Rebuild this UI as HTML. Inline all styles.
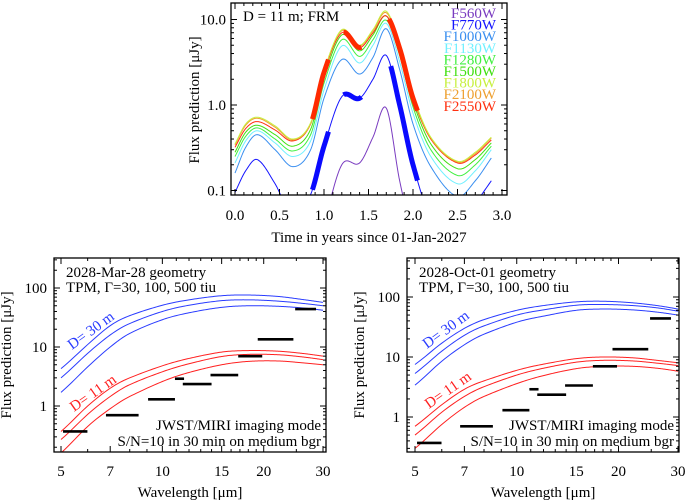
<!DOCTYPE html>
<html><head><meta charset="utf-8">
<style>
html,body{margin:0;padding:0;background:#fff;}
svg{display:block;font-family:"Liberation Serif",serif;}
</style></head>
<body>
<svg id="fig" width="685" height="502" viewBox="0 0 685 502" xmlns="http://www.w3.org/2000/svg"></svg>
<script>
// ---------- Top chart data ----------
const timeKnots = [0,0.12,0.25,0.45,0.65,0.85,1.0,1.2,1.4,1.55,1.7,1.85,2.0,2.2,2.5,2.7,2.88];
const filterNames = ["F560W","F770W","F1000W","F1130W","F1280W","F1500W","F1800W","F2100W","F2550W"];
const filterColors = ["#7a3cc0","#1414ff","#3a8ff0","#70f0ff","#40f040","#40e010","#c8f040","#eea030","#ff3010"];
const fluxF560  = [0.01,0.015,0.02,0.01,0.005,0.01,0.04,0.2,0.21,0.42,0.92,0.13,0.03,0.01,0.005,0.01,0.03];
const fluxF770  = [0.095,0.17,0.23,0.12,0.05,0.09,0.33,1.25,1.2,2.0,3.8,1.0,0.2,0.05,0.035,0.07,0.13];
const fluxF1000 = [0.16,0.32,0.45,0.3,0.19,0.3,1.2,3.4,2.3,3.6,7.8,2.6,0.6,0.19,0.085,0.13,0.24];
const fluxF1130 = [0.21,0.38,0.5,0.36,0.25,0.38,1.5,4.9,3.1,5.0,9.0,3.2,0.8,0.25,0.12,0.17,0.3];
const fluxF1280 = [0.25,0.43,0.54,0.4,0.29,0.45,1.8,5.8,3.7,5.8,9.8,3.8,0.95,0.3,0.15,0.2,0.33];
const fluxF1500 = [0.28,0.48,0.58,0.45,0.33,0.52,2.1,6.6,4.3,6.6,11.0,4.3,1.1,0.35,0.18,0.23,0.36];
const fluxF1800 = [0.35,0.6,0.72,0.57,0.4,0.62,2.5,7.6,5.0,7.6,12.5,4.9,1.3,0.42,0.22,0.28,0.42];
const fluxF2100 = [0.34,0.58,0.7,0.55,0.39,0.61,2.5,7.4,4.9,7.4,12.0,4.8,1.25,0.41,0.215,0.27,0.41];
const fluxF2550 = [0.32,0.53,0.64,0.51,0.38,0.6,2.4,7.0,4.7,7.0,11.0,4.6,1.2,0.4,0.21,0.26,0.39];
const redSegments  = [[0.87,1.05],[1.22,1.42],[1.73,2.05]];
const blueSegments = [[0.87,1.05],[1.22,1.42],[1.75,2.05]];
const topXTicks = ["0.0","0.5","1.0","1.5","2.0","2.5","3.0"];
const topYTicks = ["0.1","1.0","10.0"];

// ---------- Bottom charts data ----------
const waveKnots = [5,6,7,8,10,12,15,18,22,26,30];
const marBlue1 = [4.3,11,23,34,51,63,74,76,72,64,57];
const marBlue2 = [3.0,7.8,16,25,40,51,61,63,60,55,50];
const marBlue3 = [1.7,4.6,10,17,29,38,47,50,49,46,42];
const marRed1 = [0.37,1.0,2.0,3.0,4.8,6.4,8.2,8.7,8.5,7.8,7.0];
const marRed2 = [0.27,0.72,1.45,2.3,3.8,5.2,6.9,7.5,7.4,6.8,6.1];
const marRed3 = [0.16,0.45,0.9,1.45,2.6,3.7,5.0,5.7,5.8,5.4,5.0];
const octBlue1 = [7.5,17,30,42,60,72,83,85,80,72,63];
const octBlue2 = [5.3,12.5,23,33,50,61,73,75,72,66,58];
const octBlue3 = [3.4,8.5,16,24,38,48,60,63,61,56,50];
const octRed1 = [0.7,1.6,2.9,4.0,6.0,7.6,9.4,10,9.7,8.8,8.0];
const octRed2 = [0.5,1.2,2.2,3.2,5.0,6.5,8.2,8.8,8.6,7.9,7.2];
const octRed3 = [0.3,0.75,1.45,2.2,3.6,4.9,6.4,7.0,7.0,6.5,5.8];
const sensLo  = [5.07,6.8,9.07,10.9,11.5,13.9,16.8,19.2,24.8];
const sensHi  = [5.99,8.5,10.9,11.6,14.0,16.8,19.8,24.5,28.6];
const sensVal = [0.37,0.7,1.3,2.9,2.35,3.35,7.0,13.5,44];
const waveTicks = [5,7,10,15,20,30];
const waveMinor = [6,8,9,11,12,13,14,16,17,18,19,25];
const fluxTicks = ["1","10","100"];

const NS="http://www.w3.org/2000/svg";
const svg=document.getElementById('fig');
const FS=15;
function mk(tag,attrs,parent){const e=document.createElementNS(NS,tag);for(const k in attrs)e.setAttribute(k,attrs[k]);(parent||svg).appendChild(e);return e;}
function txt(s,attrs,parent){const e=mk('text',attrs,parent);e.textContent=s;return e;}
function interp(xs,ys,x){
  let i=0;while(i<xs.length-2&&x>xs[i+1])i++;
  const L=ys.map(v=>Math.log10(v));
  const p0=L[Math.max(i-1,0)],p1=L[i],p2=L[i+1],p3=L[Math.min(i+2,L.length-1)];
  const x0=xs[Math.max(i-1,0)],x1=xs[i],x2=xs[i+1],x3=xs[Math.min(i+2,xs.length-1)];
  const t=(x-x1)/(x2-x1);
  const m1=(p2-p0)/((x2-x0)||1)*(x2-x1), m2=(p3-p1)/((x3-x1)||1)*(x2-x1);
  const t2=t*t,t3=t2*t;
  return Math.pow(10,(2*t3-3*t2+1)*p1+(t3-2*t2+t)*m1+(-2*t3+3*t2)*p2+(t3-t2)*m2);
}
function pathFor(xs,ys,a,b,X,Y,n){let d='';for(let k=0;k<=n;k++){const x=a+(b-a)*k/n;const v=interp(xs,ys,x);d+=(k?'L':'M')+X(x).toFixed(2)+','+Y(v).toFixed(2);}return d;}

// ================= TOP CHART =================
const TL=231,TR=507,TT=3,TB=195;
const tx=t=>235+t*89;
const ty=v=>105-85.5*Math.log10(v);
const gTop=mk('g',{});
const cpt=mk('clipPath',{id:'ctop'},gTop);
mk('rect',{x:TL,y:TT,width:TR-TL,height:TB-TT},cpt);
const topSeries=[fluxF560,fluxF770,fluxF1000,fluxF1130,fluxF1280,fluxF1500,fluxF2550,fluxF2100,fluxF1800];
const topSeriesIdx=[0,1,2,3,4,5,8,7,6];
const gLines=mk('g',{'clip-path':'url(#ctop)'},gTop);
topSeries.forEach((s,j)=>{const i=topSeriesIdx[j];
  const p=mk('path',{d:pathFor(timeKnots,s,0,2.88,tx,ty,300),fill:'none',stroke:filterColors[i],'stroke-width':1},gLines);
  
  
});
redSegments.forEach(([a,b])=>{const p=mk('path',{d:pathFor(timeKnots,fluxF2550,a,b,tx,ty,40),fill:'none',stroke:'#ff2a00','stroke-width':5},gLines);
  });
blueSegments.forEach(([a,b])=>{const p=mk('path',{d:pathFor(timeKnots,fluxF770,a,b,tx,ty,40),fill:'none',stroke:'#0a0aff','stroke-width':5},gLines);
  });
mk('rect',{x:TL,y:TT,width:TR-TL,height:TB-TT,fill:'none',stroke:'#000','stroke-width':1.3,},gTop);
for(let k=0;k<=30;k++){const t=k/10;const x=tx(t);if(x>TR)break;const len=(k%5==0)?6:3;
  mk('line',{x1:x,y1:TB,x2:x,y2:TB-len,stroke:'#000'},gTop);mk('line',{x1:x,y1:TT,x2:x,y2:TT+len,stroke:'#000'},gTop);}
topXTicks.forEach(s=>{const e=txt(s,{x:tx(+s),y:220,'font-size':FS,'text-anchor':'middle'},gTop);});
for(let d=-1;d<=1;d++)for(let m=1;m<=9;m++){const v=m*Math.pow(10,d);const y=ty(v);if(y<TT||y>TB)continue;const len=m==1?6:3;
  mk('line',{x1:TL,y1:y,x2:TL+len,y2:y,stroke:'#000'},gTop);mk('line',{x1:TR,y1:y,x2:TR-len,y2:y,stroke:'#000'},gTop);}
topYTicks.forEach(s=>{const e=txt(s,{x:226,y:ty(+s)+5,'font-size':FS,'text-anchor':'end'},gTop);});
txt('Time in years since 01-Jan-2027',{x:369,y:242,'font-size':FS,'text-anchor':'middle',},gTop);
txt('Flux prediction [\u03bcJy]',{x:0,y:0,'font-size':FS,'text-anchor':'middle',transform:'translate(199,100) rotate(-90)',},gTop);
txt('D = 11 m; FRM',{x:243,y:21,'font-size':FS,},gTop);
const gLeg=mk('g',{},gTop);
filterNames.forEach((n,i)=>{const e=txt(n,{x:496,y:18+i*11.6,'font-size':FS,'text-anchor':'end',fill:filterColors[i]},gLeg);
  });

// ================= BOTTOM CHARTS =================
function panel(cfg){
  const {L,R,T,B,x5,x30,y1,dec,blues,reds,title,name,d30,d11}=cfg;
  const X=w=>x5+(x30-x5)*Math.log(w/5)/Math.log(6);
  const Y=v=>y1-dec*Math.log10(v);
  const g=mk('g',{});
  const cid='c'+name;const cp=mk('clipPath',{id:cid},g);mk('rect',{x:L,y:T,width:R-L,height:B-T},cp);
  const gl=mk('g',{'clip-path':'url(#'+cid+')'},g);
  blues.forEach(s=>{const p=mk('path',{d:pathFor(waveKnots,s,5,30,X,Y,200),fill:'none',stroke:'#2a3cff','stroke-width':1},gl);
    });
  reds.forEach(s=>{const p=mk('path',{d:pathFor(waveKnots,s,5,30,X,Y,200),fill:'none',stroke:'#ff2020','stroke-width':1},gl);
    });
  sensVal.forEach((v,i)=>{const l=mk('line',{x1:X(sensLo[i]),x2:X(sensHi[i]),y1:Y(v),y2:Y(v),stroke:'#000','stroke-width':2.6},gl);
    });
  mk('rect',{x:L,y:T,width:R-L,height:B-T,fill:'none',stroke:'#000','stroke-width':1.3},g);
  waveTicks.forEach(w=>{const x=X(w);mk('line',{x1:x,y1:B,x2:x,y2:B-6,stroke:'#000'},g);mk('line',{x1:x,y1:T,x2:x,y2:T+6,stroke:'#000'},g);
    const e=txt(String(w),{x:x,y:476,'font-size':FS,'text-anchor':'middle'},g);});
  waveMinor.forEach(w=>{const x=X(w);mk('line',{x1:x,y1:B,x2:x,y2:B-3,stroke:'#000'},g);mk('line',{x1:x,y1:T,x2:x,y2:T+3,stroke:'#000'},g);});
  for(let d=-1;d<=2;d++)for(let m=1;m<=9;m++){const v=m*Math.pow(10,d);const y=Y(v);if(y<T||y>B)continue;const len=m==1?6:3;
    mk('line',{x1:L,y1:y,x2:L+len,y2:y,stroke:'#000'},g);mk('line',{x1:R,y1:y,x2:R-len,y2:y,stroke:'#000'},g);}
  fluxTicks.forEach(s=>{const e=txt(s,{x:L-7,y:Y(+s)+5,'font-size':FS,'text-anchor':'end'},g);});
  txt('Wavelength [\u03bcm]',{x:(L+R)/2,y:497,'font-size':FS,'text-anchor':'middle',},g);
  txt('Flux prediction [\u03bcJy]',{x:0,y:0,'font-size':FS,'text-anchor':'middle',transform:'translate('+(L-43)+',355) rotate(-90)',},g);
  txt(title,{x:L+12,y:277,'font-size':FS,},g);
  txt('TPM, \u0393=30, 100, 500 tiu',{x:L+12,y:292,'font-size':FS,},g);
  txt('JWST/MIRI imaging mode',{x:R-5,y:430,'font-size':FS,'text-anchor':'end',},g);
  txt('S/N=10 in 30 min on medium bgr',{x:R-5,y:446,'font-size':FS,'text-anchor':'end',},g);
  txt('D= 30 m',{x:0,y:0,'font-size':FS,fill:'#2a3cff',transform:'translate('+d30[0]+','+d30[1]+') rotate(-36)',},g);
  txt('D= 11 m',{x:0,y:0,'font-size':FS,fill:'#ff2020',transform:'translate('+d11[0]+','+d11[1]+') rotate(-35)',},g);
}
panel({L:54,R:326,T:258,B:452,x5:61,x30:323,y1:406,dec:59,blues:[marBlue1,marBlue2,marBlue3],reds:[marRed1,marRed2,marRed3],
  title:'2028-Mar-28 geometry',name:'panel-mar28',d30:[72,350],d11:[74,412]});
panel({L:407,R:679,T:258,B:452,x5:415,x30:678,y1:417,dec:60,blues:[octBlue1,octBlue2,octBlue3],reds:[octRed1,octRed2,octRed3],
  title:'2028-Oct-01 geometry',name:'panel-oct01',d30:[427,349],d11:[429,409]});
</script>
</body></html>
